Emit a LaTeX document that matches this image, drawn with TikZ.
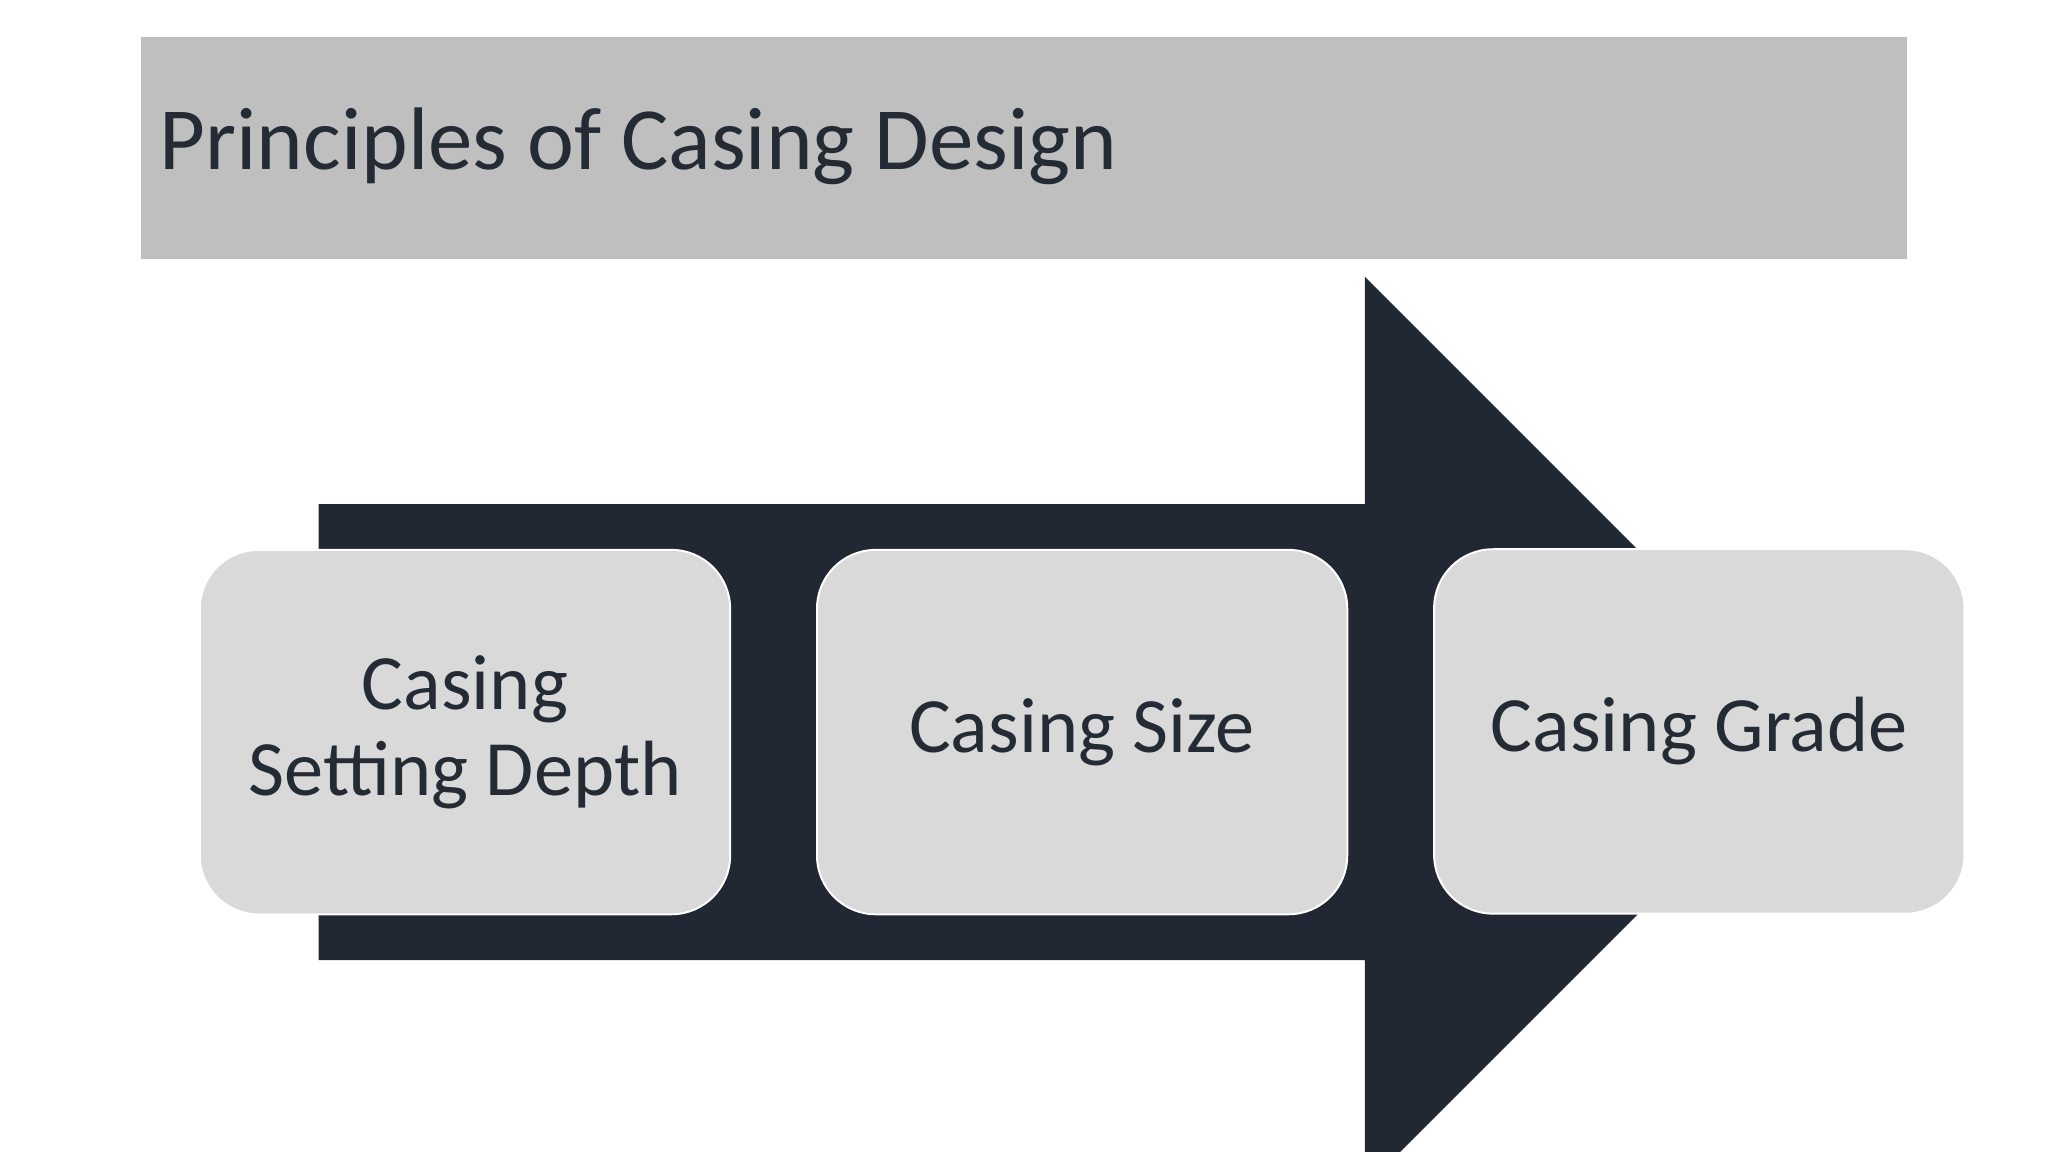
\documentclass[tikz,border=0pt]{standalone}
\usepackage{fontspec}
\setmainfont{Carlito}
\definecolor{band}{HTML}{BFBFBF}
\definecolor{dark}{HTML}{222833}
\definecolor{boxfill}{HTML}{D9D9D9}
\definecolor{txt}{HTML}{252B35}
\begin{document}
\begin{tikzpicture}[x=1pt,y=-1pt,
  stagebox/.style={draw=white,line width=1.5pt,fill=boxfill,rounded corners=45pt,
    minimum width=406pt,minimum height=279pt,inner sep=0pt,text=txt,
    font=\fontsize{60}{72}\selectfont,align=center}]
\useasboundingbox (0,0) rectangle (1568,882);
\clip (0,0) rectangle (1568,882);
\fill[white] (0,0) rectangle (1568,882);
\node[fill=band,minimum width=1352pt,minimum height=170pt,inner sep=0pt,anchor=north west] (band) at (108,28) {};
\node[anchor=base west,text=txt,font=\fontsize{68}{80}\selectfont,inner sep=0pt] (title) at (122,130) {Principles of Casing Design};
\fill[dark] (244,386) -- (1045,386) -- (1045,212) -- (1393.5,560.5) -- (1045,909) -- (1045,735) -- (244,735) -- cycle;
\node[stagebox] (b1) at (356,560.5) {Casing\\[-6pt]Setting Depth};
\node[stagebox] (b2) at (828.5,560.5) {Casing Size};
\node[stagebox] (b3) at (1301,560) {Casing Grade};
\end{tikzpicture}
\end{document}
